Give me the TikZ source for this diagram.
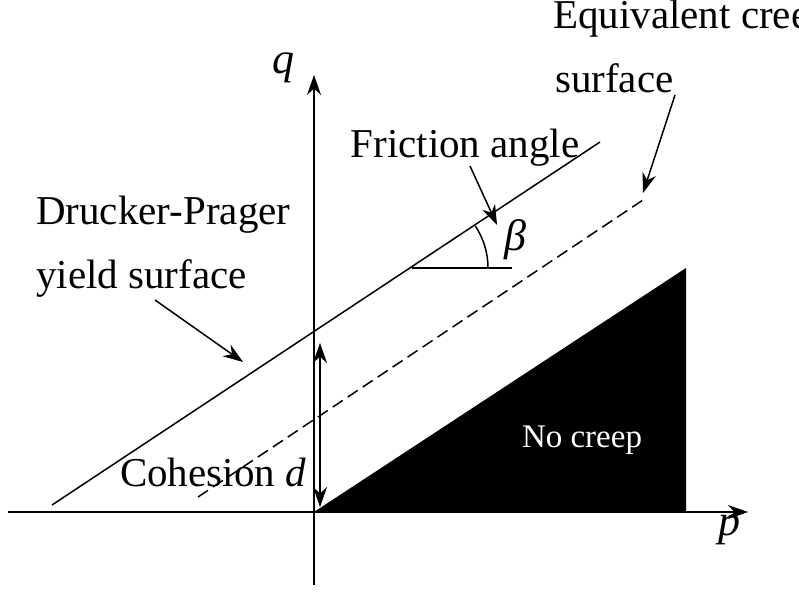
\documentclass[tikz,border=0pt]{standalone}
\usepackage{fontspec}
\setmainfont{Liberation Serif}
\usetikzlibrary{arrows.meta}
\begin{document}
\begin{tikzpicture}[x=1pt,y=-1pt,
 lbl/.style={inner sep=0,font=\fontsize{41}{46}\selectfont},
 ln/.style={line width=1.5pt},
 arr/.style={ln,-{Stealth[length=20pt,width=14pt]}}]
\useasboundingbox (0,0) rectangle (799,601);
\clip (0,0) rectangle (799,601);
\coordinate (xl) at (8,512); \coordinate (xr) at (748,512);
\coordinate (yb) at (314,585); \coordinate (yt) at (314,75);
\draw[arr] (xl) -- (xr);
\draw[arr] (yb) -- (yt);
\node[lbl,font=\fontsize{44}{48}\selectfont\itshape] (q) at (283,68) {q};
\node[lbl,font=\fontsize{44}{48}\selectfont\itshape] (p) at (729,530) {p};
\coordinate (d1) at (52,505); \coordinate (d2) at (600,142);
\draw[ln] (d1) -- (d2);
\coordinate (e1) at (198,497); \coordinate (e2) at (643,200);
\draw[ln,dash pattern=on 12pt off 6pt] (e1) -- (e2);
\fill (314,512) -- (686,268) -- (686,512) -- cycle;
\node[lbl,white,font=\fontsize{33}{38}\selectfont] (nc) at (582,440) {No creep};
\coordinate (c1) at (320,343); \coordinate (c2) at (320,507);
\draw[ln,{Stealth[length=20pt,width=14pt]}-{Stealth[length=20pt,width=14pt]}] (c1) -- (c2);
\node[lbl] (coh) at (213,472) {Cohesion \textit{d}};
\node[lbl] (fa) at (465,148) {Friction angle};
\coordinate (fat) at (497,225);
\draw[arr] (470,166) -- (fat);
\coordinate (h1) at (412,268); \coordinate (h2) at (512,268);
\draw[ln] (h1) -- (h2);
\draw[ln] (488,268) arc[start angle=0,end angle=-33.5,radius=76];
\node[lbl,font=\fontsize{44}{48}\selectfont\itshape] (b) at (515,240) {β};
\node[lbl,anchor=west] (dp1) at (36,215) {Drucker-Prager};
\node[lbl,anchor=west] (dp2) at (36,278) {yield surface};
\draw[arr] (155,300) -- (243,362);
\node[lbl,anchor=west] (eq1) at (553,19) {Equivalent creep};
\node[lbl,anchor=west] (eq2) at (555,78) {surface};
\draw[arr] (675,95) -- (643,193);
\end{tikzpicture}
\end{document}
